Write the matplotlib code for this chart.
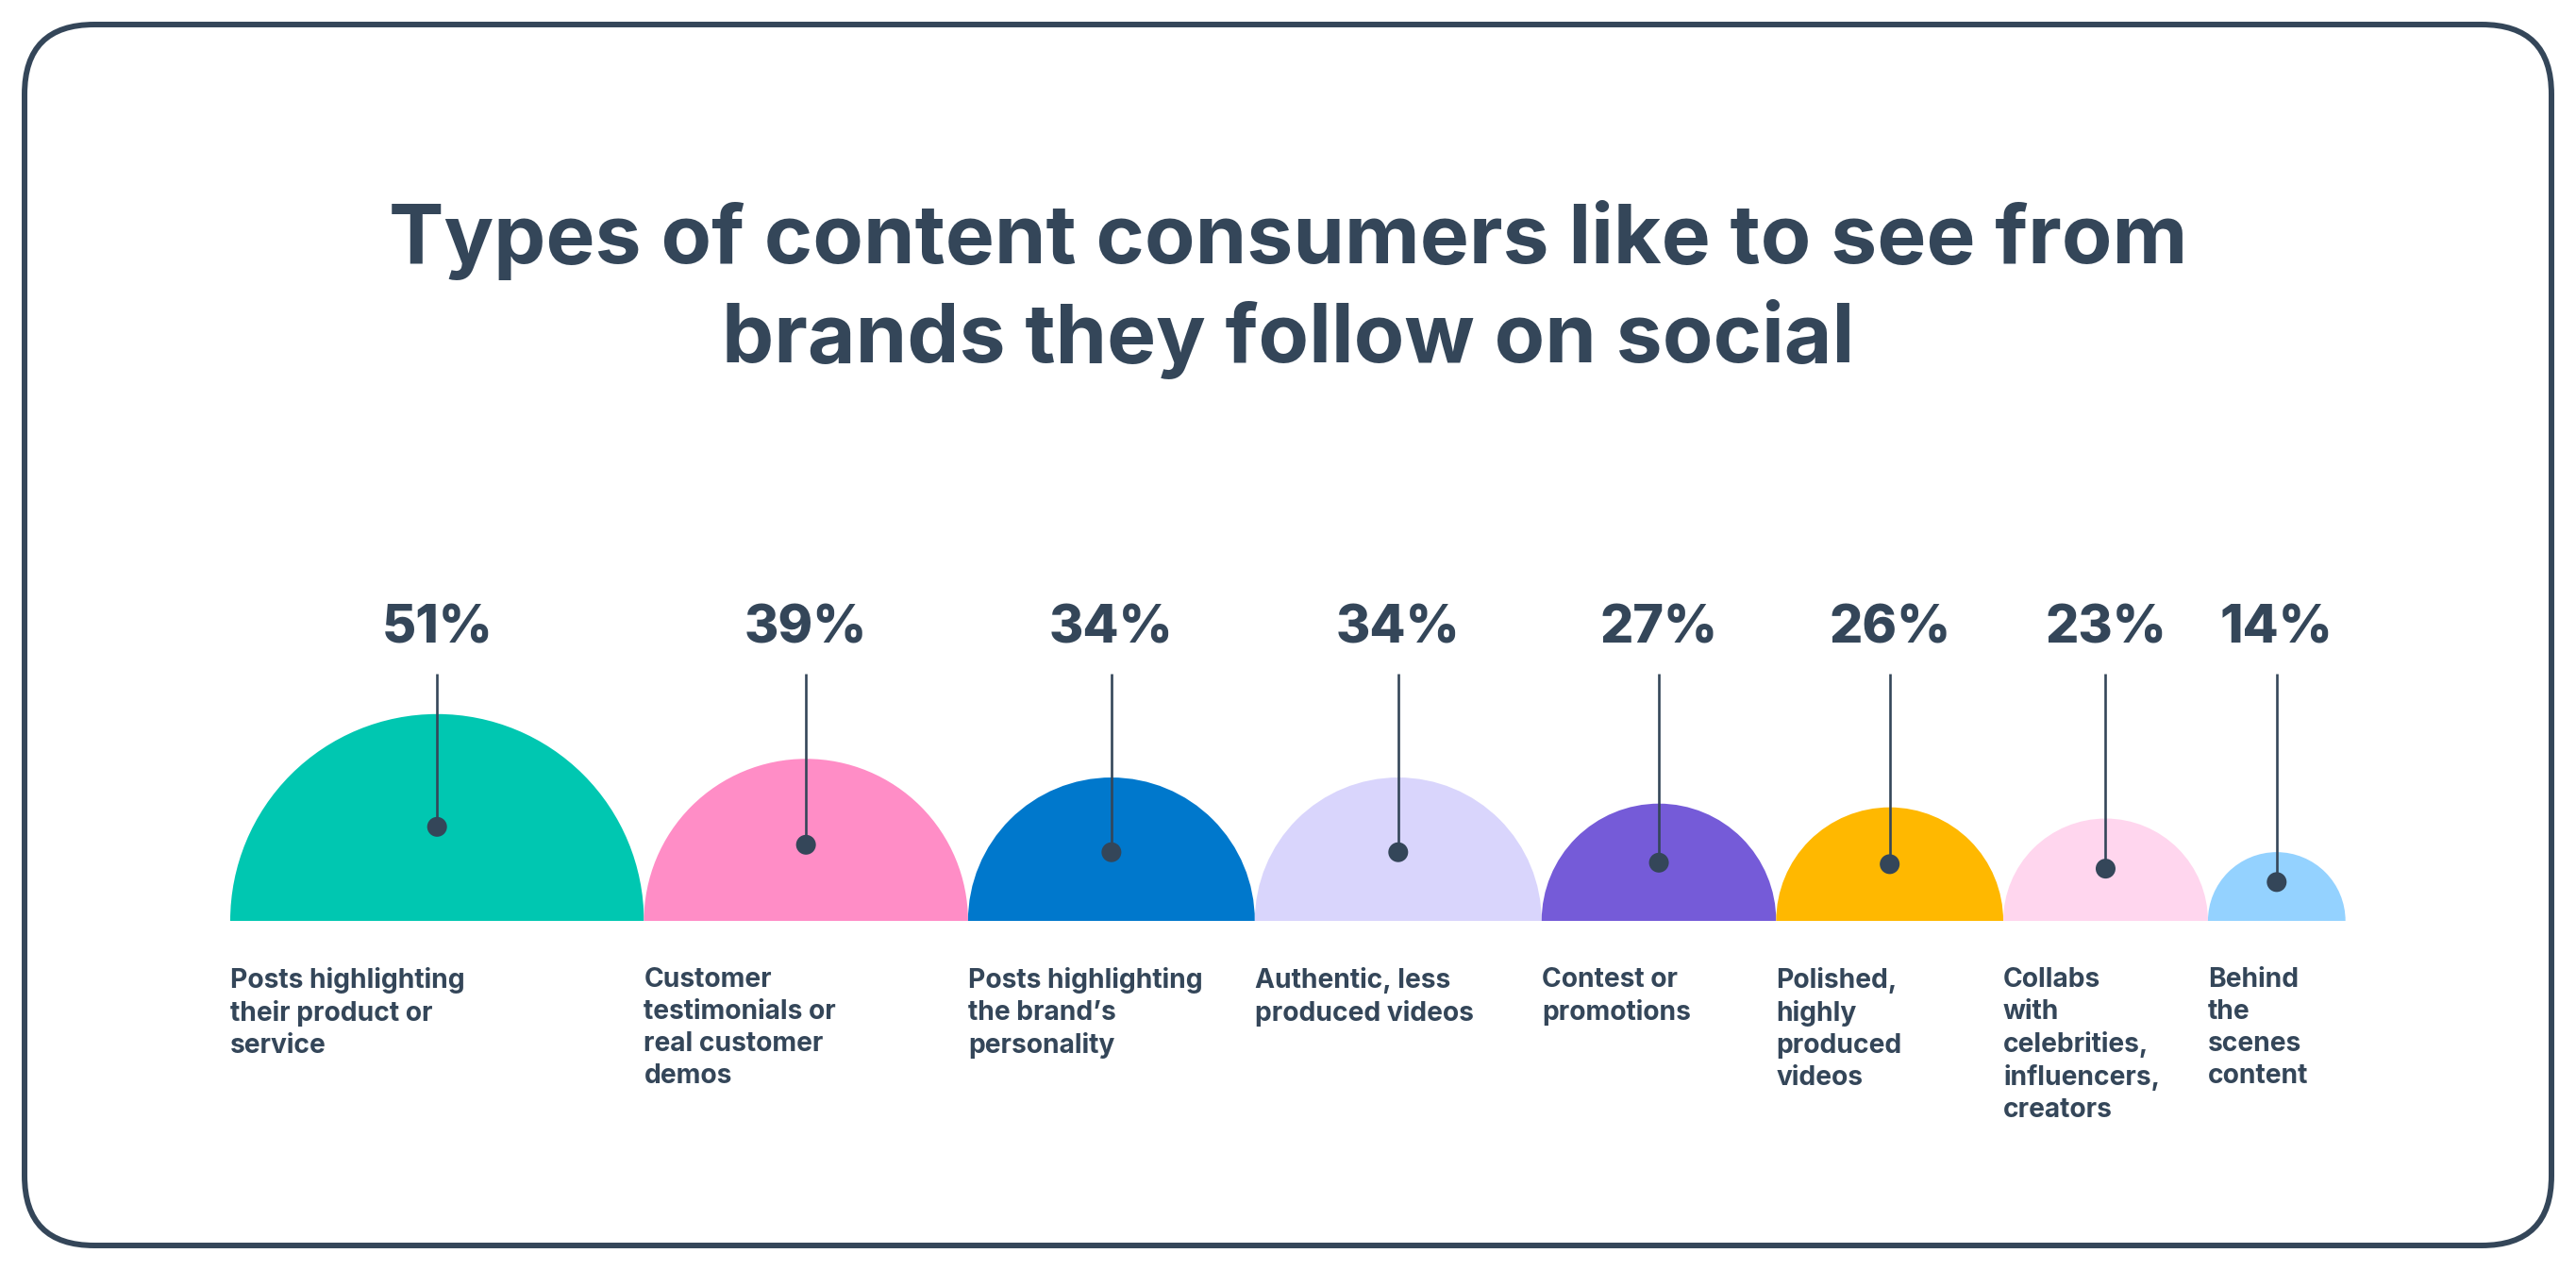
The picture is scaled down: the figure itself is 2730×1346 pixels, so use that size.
"""
Semicircle infographic: types of content consumers like to see from brands.
Draws in a pixel-space axes (2730 x 1346), y pointing down.
"""
import matplotlib
matplotlib.use("Agg")
import matplotlib.pyplot as plt
from matplotlib.patches import Wedge, Circle, FancyBboxPatch

TITLE = "Types of content consumers like to see from\nbrands they follow on social"
categories = [
    "Posts highlighting\ntheir product or\nservice",
    "Customer\ntestimonials or\nreal customer\ndemos",
    "Posts highlighting\nthe brand\u2019s\npersonality",
    "Authentic, less\nproduced videos",
    "Contest or\npromotions",
    "Polished,\nhighly\nproduced\nvideos",
    "Collabs\nwith\ncelebrities,\ninfluencers,\ncreators",
    "Behind\nthe\nscenes\ncontent",
]
values = [51, 39, 34, 34, 27, 26, 23, 14]
colors = ["#00C7B1", "#FF8DC6", "#0078CC", "#D9D5FC",
          "#755BD8", "#FFB800", "#FFD6EE", "#94D2FF"]

INK = "#344659"
W, H = 2730, 1346
BASE_Y = 976          # baseline of the semicircles
X0 = 244              # left edge of the first semicircle
LINE_TOP = 714


def radius(v):
    # size scale used by the design (value -> semicircle radius, px)
    return 17.5 + 3.955 * v


plt.rcParams.update({"font.family": ["Inter", "DejaVu Sans"]})

fig = plt.figure(figsize=(W / 100, H / 100), dpi=100)
ax = fig.add_axes([0, 0, 1, 1])
ax.set_xlim(0, W)
ax.set_ylim(H, 0)
ax.set_aspect("equal")
ax.axis("off")

# rounded frame
ax.add_patch(FancyBboxPatch((26, 26), W - 52, H - 52,
                            boxstyle="round,pad=0,rounding_size=74",
                            fc="white", ec=INK, lw=4.3, zorder=0))

ax.text(W / 2, 307, TITLE, ha="center", va="center", fontsize=63,
        fontweight="bold", color=INK, linespacing=1.31)

x = X0
for lbl, v, col in zip(categories, values, colors):
    r = radius(v)
    cx = x + r
    ax.add_patch(Wedge((cx, BASE_Y), r, 180, 360, fc=col, ec="none", zorder=2))
    dot_y = BASE_Y - (0.4 * r + 12)
    ax.plot([cx, cx], [LINE_TOP, dot_y], color=INK, lw=1.9, zorder=3,
            solid_capstyle="butt")
    ax.add_patch(Circle((cx, dot_y), 10.5, fc=INK, ec="none", zorder=4))
    ax.text(cx, 666, f"{v}%", ha="center", va="center", fontsize=40,
            fontweight="heavy", color=INK)
    ax.text(x, 1025, lbl, ha="left", va="top", fontsize=20.3,
            fontweight="bold", color=INK, linespacing=1.33)
    x += 2 * r

fig.savefig("out.png", dpi=100, facecolor="white")
